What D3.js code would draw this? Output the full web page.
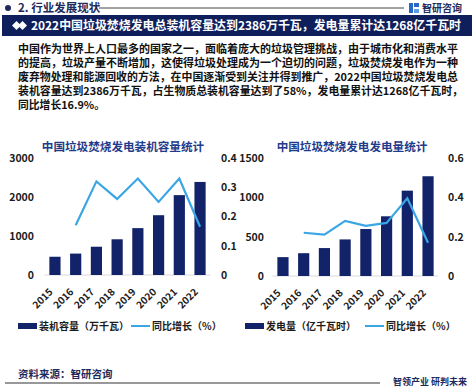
<!DOCTYPE html>
<html><head><meta charset="utf-8">
<script src="https://cdn.jsdelivr.net/npm/d3@7"></script>
<style>
html,body{margin:0;padding:0;background:#fff;}
svg{display:block;font-family:"Noto Sans CJK SC","Noto Sans",sans-serif;}
</style></head>
<body>
<script>
const years = ["2015","2016","2017","2018","2019","2020","2021","2022"];
const capacity = [468, 549, 725, 916, 1202, 1533, 2048, 2386];
const capacityGrowth = [null, 0.17, 0.32, 0.26, 0.33, 0.25, 0.33, 0.165];
const generation = [240, 290, 355, 465, 597, 759, 1085, 1268];
const generationGrowth = [null, 0.22, 0.21, 0.28, 0.255, 0.27, 0.395, 0.169];
const capTicksL = [0, 1000, 2000, 3000];
const capTicksR = [0, 0.1, 0.2, 0.3, 0.4];
const genTicksL = [0, 500, 1000, 1500];
const genTicksR = [0, 0.2, 0.4, 0.6];
const paragraph = [
 "中国作为世界上人口最多的国家之一，面临着庞大的垃圾管理挑战，由于城市化和消费水平",
 "的提高，垃圾产量不断增加，这使得垃圾处理成为一个迫切的问题，垃圾焚烧发电作为一种",
 "废弃物处理和能源回收的方法，在中国逐渐受到关注并得到推广，2022中国垃圾焚烧发电总",
 "装机容量达到2386万千瓦，占生物质总装机容量达到了58%，发电量累计达1268亿千瓦时，",
 "同比增长16.9%。"
];

const W = 474, H = 390;
const NAVY = "#13236a", LINE = "#3aa6e4", DARK = "#1b1b1b";
const svg = d3.select("body").append("svg").attr("width", W).attr("height", H);

// header
svg.append("circle").attr("cx", 8).attr("cy", 8).attr("r", 3).attr("fill", "#1d2b5c");
svg.append("text").attr("x", 18).attr("y", 8).attr("dy", "0.36em").attr("font-size", 11.5)
  .attr("font-weight", "bold").attr("fill", "#1d2b5c").text("2. 行业发展现状");
svg.append("line").attr("x1", 99).attr("x2", 404).attr("y1", 8).attr("y2", 8)
  .attr("stroke", "#444").attr("stroke-width", 1);
// logo
const lg = svg.append("g").attr("transform", "translate(409,3)");
lg.append("rect").attr("x", 0).attr("y", 0).attr("width", 4).attr("height", 10).attr("fill", "#2a66c8");
lg.append("rect").attr("x", 5).attr("y", 0).attr("width", 5).attr("height", 4).attr("fill", "#2a66c8");
lg.append("rect").attr("x", 5).attr("y", 6).attr("width", 5).attr("height", 4).attr("fill", "#5aa0e8");
svg.append("text").attr("x", 422).attr("y", 8).attr("dy", "0.36em").attr("font-size", 10)
  .attr("font-weight", "bold").attr("fill", "#1d2b5c").text("智研咨询");

// title bar
svg.append("rect").attr("x", 2).attr("y", 15).attr("width", 470).attr("height", 21).attr("fill", "#0f1f5c");
const dia = svg.append("g").attr("fill", "#fff");
dia.append("path").attr("d", "M12,25.5 L16.5,21 L21,25.5 L16.5,30 Z");
dia.append("path").attr("d", "M18,25.5 L22.5,21 L27,25.5 L22.5,30 Z");
svg.append("text").attr("x", 31).attr("y", 25.5).attr("dy", "0.36em").attr("font-size", 12)
  .attr("font-weight", "bold").attr("fill", "#fff")
  .attr("textLength", 430).attr("lengthAdjust", "spacingAndGlyphs")
  .text("2022中国垃圾焚烧发电总装机容量达到2386万千瓦，发电量累计达1268亿千瓦时");

// paragraph
paragraph.forEach((t, i) => {
  const tx = svg.append("text").attr("x", 18).attr("y", 49 + i * 14).attr("dy", "0.36em")
    .attr("font-size", 10.8).attr("font-weight", "bold").attr("fill", "#111").text(t);
  if (i < 4) tx.attr("textLength", i === 3 ? 445 : 440).attr("lengthAdjust", "spacingAndGlyphs");
});

function chart(cfg) {
  const g = svg.append("g");
  const x = d3.scaleBand().domain(years).range(cfg.xr).paddingInner(0.46).paddingOuter(0.23);
  const yL = d3.scaleLinear().domain(cfg.dl).range([cfg.y0, 158]);
  const yR = d3.scaleLinear().domain(cfg.dr).range([cfg.y0, 158]);
  g.append("text").attr("x", cfg.tx).attr("y", 147).attr("dy", "0.36em").attr("text-anchor", "middle")
    .attr("font-size", 11.6).attr("font-weight", "bold").attr("fill", "#1f3c8c").text(cfg.title);
  const styleAxis = sel => {
    sel.select(".domain").remove();
    sel.selectAll("text").attr("font-size", 10.5).attr("font-weight", "bold").attr("fill", DARK)
      .attr("font-family", "'Noto Sans CJK SC',sans-serif");
  };
  g.append("g").attr("transform", `translate(${cfg.lx},0)`)
    .call(d3.axisLeft(yL).tickValues(cfg.tl).tickSize(0).tickPadding(0).tickFormat(d3.format("d")))
    .call(styleAxis);
  g.append("g").attr("transform", `translate(${cfg.rx},0)`)
    .call(d3.axisRight(yR).tickValues(cfg.tr).tickSize(0).tickPadding(0)
      .tickFormat(d => d === 0 ? "0" : d3.format(".1f")(d)))
    .call(styleAxis);
  g.append("line").attr("x1", cfg.xr[0]).attr("x2", cfg.xr[1]).attr("y1", cfg.y0).attr("y2", cfg.y0)
    .attr("stroke", "#d9d9d9").attr("stroke-width", 1);
  g.selectAll("rect.bar").data(cfg.vals).join("rect").attr("class", "bar")
    .attr("x", (d, i) => x(years[i])).attr("width", x.bandwidth())
    .attr("y", d => yL(d)).attr("height", d => cfg.y0 - yL(d)).attr("fill", NAVY);
  const pts = cfg.growth.map((v, i) => [x(years[i]) + x.bandwidth() / 2, v]).filter(p => p[1] != null);
  g.append("path").attr("d", d3.line().x(p => p[0]).y(p => yR(p[1]))(pts))
    .attr("fill", "none").attr("stroke", LINE).attr("stroke-width", 2.2);
  // x labels
  years.forEach(yv => {
    const cx = x(yv) + x.bandwidth() / 2 - 4;
    g.append("text").attr("transform", `translate(${cx},${cfg.y0 + 15}) rotate(-45)`)
      .attr("text-anchor", "end").attr("dy", "0.36em").attr("font-size", 10).attr("font-weight", "bold")
      .attr("fill", DARK).text(yv);
  });
  // legend
  const lgY = 326;
  g.append("rect").attr("x", cfg.lg[0]).attr("y", lgY - 3).attr("width", 19).attr("height", 6).attr("fill", NAVY);
  g.append("text").attr("x", cfg.lg[0] + 21).attr("y", lgY).attr("dy", "0.36em").attr("font-size", 10)
    .attr("font-weight", "bold").attr("fill", DARK).text(cfg.lbl1);
  g.append("line").attr("x1", cfg.lg[1]).attr("x2", cfg.lg[1] + 19).attr("y1", lgY).attr("y2", lgY)
    .attr("stroke", LINE).attr("stroke-width", 2);
  g.append("text").attr("x", cfg.lg[1] + 21).attr("y", lgY).attr("dy", "0.36em").attr("font-size", 10)
    .attr("font-weight", "bold").attr("fill", DARK).text("同比增长（%）");
}

chart({title: "中国垃圾焚烧发电装机容量统计", tx: 123, xr: [44.6, 210.4], y0: 275,
  dl: [0, 3000], dr: [0, 0.4], tl: capTicksL, tr: capTicksR, lx: 34, rx: 221,
  vals: capacity, growth: capacityGrowth, lg: [18, 131], lbl1: "装机容量（万千瓦）"});
chart({title: "中国垃圾焚烧发电发电量统计", tx: 352, xr: [272.6, 438.4], y0: 276,
  dl: [0, 1500], dr: [0, 0.6], tl: genTicksL, tr: genTicksR, lx: 264, rx: 448,
  vals: generation, growth: generationGrowth, lg: [245, 365], lbl1: "发电量（亿千瓦时）"});

// footer
svg.append("text").attr("x", 18).attr("y", 374).attr("dy", "0.36em").attr("font-size", 10.5)
  .attr("font-weight", "bold").attr("fill", "#1d2b5c").text("资料来源：智研咨询");
svg.append("line").attr("x1", 5).attr("x2", 380).attr("y1", 383).attr("y2", 383)
  .attr("stroke", "#333").attr("stroke-width", 1.2);
svg.append("text").attr("x", 393).attr("y", 382).attr("dy", "0.36em").attr("font-size", 9)
  .attr("font-weight", "bold").attr("fill", "#1d2b5c").text("智领产业 研判未来");
</script>
</body></html>
